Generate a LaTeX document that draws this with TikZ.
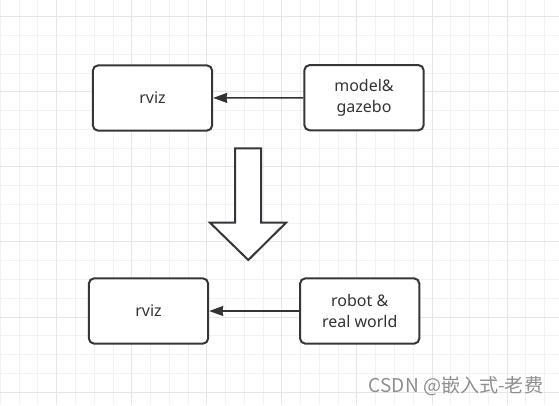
\documentclass[tikz,border=0pt]{standalone}
\usepackage{fontspec}
\setmainfont{Noto Sans}
\newfontfamily\cjk{Noto Sans CJK SC}
\usepackage{xcolor}
\usepackage{tikz}
\usetikzlibrary{positioning,arrows.meta}
\definecolor{gridminor}{HTML}{F2F2F2}
\definecolor{gridmajor}{HTML}{E6E6E6}
\definecolor{boxline}{HTML}{33373B}
\definecolor{arrline}{HTML}{333333}
\definecolor{markgray}{HTML}{8E8E8E}

\begin{document}
\begin{tikzpicture}[x=0.75pt,y=-0.75pt,
  blk/.style={draw=boxline, line width=1.5pt, rounded corners=4pt, fill=white,
    minimum width=89.5pt, minimum height=49pt, align=center,
    font=\fontsize{12}{16}\selectfont, text=black!80},
  link/.style={draw=arrline, line width=1.1pt, -{Stealth[length=10.5pt,width=7.5pt,inset=0.5pt]}}]
\useasboundingbox (0,0) rectangle (559,405);
% grid paper
\foreach \k in {0,...,29} \draw[gridminor, line width=0.7pt] (0.4+18.765*\k,0) -- (0.4+18.765*\k,405);
\foreach \k in {0,...,22} \draw[gridminor, line width=0.7pt] (0,-2+18.765*\k) -- (559,-2+18.765*\k);
\foreach \k in {3,7,...,27} \draw[gridmajor, line width=0.7pt] (0.4+18.765*\k,0) -- (0.4+18.765*\k,405);
\foreach \k in {1,5,...,21} \draw[gridmajor, line width=0.7pt] (0,-2+18.765*\k) -- (559,-2+18.765*\k);
% simulation
\node[blk] (rvizsim) at (152.5,98) {rviz};
\node[blk] (gazebo) at (364,97.7) {model\&\\gazebo};
\draw[link] (gazebo) -- (rvizsim);
% big arrow
\draw[draw=boxline, line width=1.5pt, fill=white] (235,148.3) -- (261,148.3) -- (261,222.7) -- (286,222.7)
  -- (248.3,260) -- (210,222.7) -- (235,222.7) -- cycle;
% real robot
\node[blk] (rvizreal) at (148.5,311) {rviz};
\node[blk] (robot) at (359.7,311) {robot \&\\real world};
\draw[link] (robot) -- (rvizreal);
% watermark
\node[text=markgray, font=\cjk\fontsize{14.3}{16}\selectfont] (mark) at (456,386) {CSDN @嵌入式-老费};
\end{tikzpicture}
\end{document}
